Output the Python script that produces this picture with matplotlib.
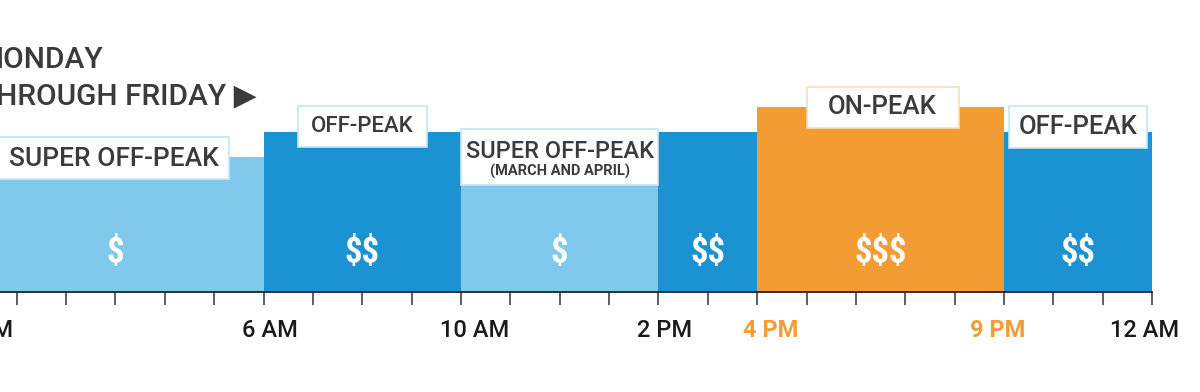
import matplotlib
matplotlib.use("Agg")
import matplotlib.pyplot as plt
from matplotlib import font_manager
from matplotlib.patches import Rectangle

# --- data -----------------------------------------------------------------
period_start = [0, 6, 10, 14, 16, 21]           # hour of day
period_end = [6, 10, 14, 16, 21, 24]
period_kind = ["super", "off", "super", "off", "on", "off"]
rate_level = [2.7, 3.2, 2.7, 3.2, 3.7, 3.2]      # relative price level
rate_signs = ["$", "$$", "$", "$$", "$$$", "$$"]

tick_hours = [0, 6, 10, 14, 16, 21, 24]
tick_labels = ["12 AM", "6 AM", "10 AM", "2 PM", "4 PM", "9 PM", "12 AM"]
peak_ticks = ["4 PM", "9 PM"]

title_lines = ["MONDAY", "THROUGH FRIDAY \u25B6"]

# --- style ----------------------------------------------------------------
COLORS = {"super": "#80c8ec", "off": "#1b93d3", "on": "#f39c33"}
TEXT = "#3b3b3b"
ORANGE = "#f39c33"
# the source graphic places its hour labels slightly off the tick marks
LABEL_NUDGE = [0.22, 0.13, 0.27, 0.13, 0.28, -0.12, -0.16]

available = {f.name for f in font_manager.fontManager.ttflist}
SANS = ["Roboto", "DejaVu Sans"] if "Roboto" in available else ["DejaVu Sans"]
NARROW = next((f for f in ["Roboto Condensed", "Liberation Sans Narrow", "DejaVu Sans"]
               if f in available), "DejaVu Sans")
plt.rcParams["font.family"] = SANS

fig = plt.figure(figsize=(12, 3.92), dpi=100)
ax = fig.add_axes([0, 0, 1, 1])

widths = [e - s for s, e in zip(period_start, period_end)]
ax.bar(period_start, rate_level, width=widths, align="edge",
       color=[COLORS[k] for k in period_kind], linewidth=0, zorder=1)

# price signs in the middle of every block
for s, w, sign in zip(period_start, widths, rate_signs):
    ax.text(s + w / 2, 0.8, sign.replace("$", r"\$"), ha="center", va="center",
            color="white", fontsize=25, fontweight="bold", family=NARROW, zorder=2)

# label boxes: (x0, x1, y0, y1, text x, text y, text, size, edge)
boxes = [
    (0.56, 5.30, 2.26, 3.10, 2.96, 2.66, "SUPER OFF-PEAK", 19, "#c6e6f6"),
    (6.70, 9.31, 2.90, 3.72, 8.00, 3.30, "OFF-PEAK", 16, "#c6e6f6"),
    (10.0, 13.99, 2.14, 3.26, 12.0, 2.82, "SUPER OFF-PEAK", 17, "#c6e6f6"),
    (17.01, 20.09, 3.28, 4.10, 18.53, 3.70, "ON-PEAK", 18.5, "#f8dcb6"),
    (21.10, 23.90, 2.88, 3.72, 22.50, 3.30, "OFF-PEAK", 18.5, "#c6e6f6"),
]
for x0, x1, y0, y1, tx, ty, label, size, edge in boxes:
    ax.add_patch(Rectangle((x0, y0), x1 - x0, y1 - y0, facecolor="white",
                           edgecolor=edge, linewidth=1.2, zorder=3))
    ax.text(tx, ty, label, ha="center", va="center", fontsize=size,
            fontweight="medium", color=TEXT, zorder=4)
ax.text(12.0, 2.42, "(MARCH AND APRIL)", ha="center", va="center",
        fontsize=10.5, fontweight="bold", color=TEXT, zorder=4)

# title, cut by the left edge like the source graphic
ax.text(0.217, 4.48, title_lines[0], ha="left", va="baseline",
        fontsize=21.5, fontweight="medium", color=TEXT)
ax.text(0.217, 3.76, title_lines[1], ha="left", va="baseline",
        fontsize=21.5, fontweight="medium", color=TEXT)

# time axis
for side in ["top", "left", "right"]:
    ax.spines[side].set_visible(False)
ax.spines["bottom"].set_position(("data", 0))
ax.spines["bottom"].set_bounds(0, 24)
ax.spines["bottom"].set_color("#222222")
ax.spines["bottom"].set_linewidth(1.3)
ax.spines["bottom"].set_zorder(5)
ax.set_yticks([])
ax.set_xticks(range(0, 25))
ax.set_xticklabels([])
ax.tick_params(axis="x", direction="out", length=9.4, width=1.1, color="#333333")

for hour, label, nudge in zip(tick_hours, tick_labels, LABEL_NUDGE):
    peak = label in peak_ticks
    ax.text(hour + nudge, -0.77, label, ha="center", va="center", fontsize=17,
            fontweight="bold" if peak else "medium",
            color=ORANGE if peak else "#1a1a1a")

# limits last: set_xticks would widen them to include hour 0
ax.set_xlim(0.662, 24.97)
ax.set_ylim(-2.0, 5.84)

fig.savefig("out.png", dpi=100)
plt.close(fig)
